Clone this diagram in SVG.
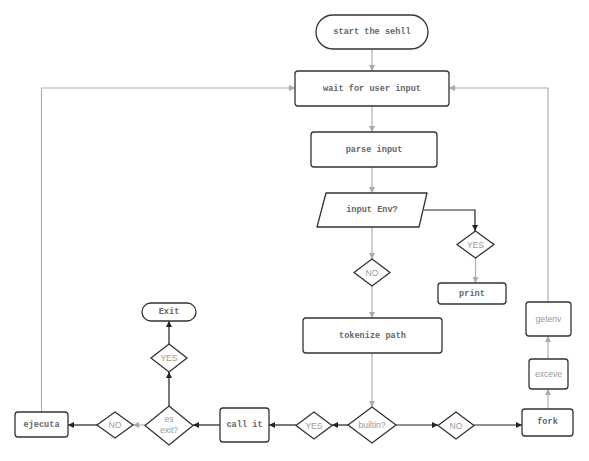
<svg xmlns="http://www.w3.org/2000/svg" width="589" height="461" viewBox="0 0 589 461">
<defs>
<marker id="ab" viewBox="0 0 10 10" refX="10" refY="5" markerWidth="6" markerHeight="6" markerUnits="userSpaceOnUse" orient="auto"><path d="M0,0 L10,5 L0,10 z" fill="#222"/></marker>
<marker id="ag" viewBox="0 0 10 10" refX="10" refY="5" markerWidth="6" markerHeight="6" markerUnits="userSpaceOnUse" orient="auto"><path d="M0,0 L10,5 L0,10 z" fill="#aaa"/></marker>
</defs>
<style>
.n{fill:#fff;stroke:#333;stroke-width:1.3}
.m{font-family:"Liberation Mono",monospace;font-weight:bold;font-size:8.6px;fill:#666;text-anchor:middle;dominant-baseline:central}
.s{font-family:"Liberation Sans",Arial,sans-serif;font-size:8.6px;fill:#999;text-anchor:middle;dominant-baseline:central}
.g{fill:none;stroke:#b0b0b0;stroke-width:1.2;marker-end:url(#ag)}
.b{fill:none;stroke:#222;stroke-width:1.2;marker-end:url(#ab)}
</style>
<rect width="589" height="461" fill="#fff"/>
<g id="connectors">
<path class="g" d="M372,49 V71"/>
<path class="g" d="M372,106 V132"/>
<path class="g" d="M372,167 V193"/>
<path class="b" d="M424,210 H475 V231"/>
<path class="g" d="M372,227 V259"/>
<path class="g" d="M475.5,258 V283"/>
<path class="g" d="M372,286 V318"/>
<path class="g" d="M372,353 V407"/>
<path class="b" d="M396,425 H438"/>
<path class="b" d="M474,425 H522"/>
<path class="g" d="M548,409 V389"/>
<path class="g" d="M548,359 V336"/>
<path class="g" d="M548,302 V88 H449"/>
<path class="b" d="M348,425 H332"/>
<path class="b" d="M296,425 H269"/>
<path class="b" d="M220,425 H193"/>
<path class="g" d="M145,425 H133"/>
<path class="b" d="M97,425 H68"/>
<path class="b" d="M169,406 V372"/>
<path class="b" d="M169,344 V321"/>
<path class="g" d="M41.5,412 V88 H295"/>
</g>
<g id="start"><rect class="n" x="316" y="15" width="112" height="34" rx="17"/><text class="m" x="372" y="32">start the sehll</text></g>
<g id="wait"><rect class="n" x="295" y="71" width="154" height="35" rx="3"/><text class="m" x="372" y="88.5">wait for user input</text></g>
<g id="parse"><rect class="n" x="311" y="132" width="126" height="35" rx="3"/><text class="m" x="374" y="149.5">parse input</text></g>
<g id="env"><path class="n" d="M326,193 H427 L419,227 H317 Z" stroke-linejoin="round"/><text class="m" x="372" y="210">input Env?</text></g>
<g id="yes1"><path class="n" d="M475.5,231 L494,244.5 L475.5,258 L457,244.5 Z"/><text class="s" x="475.5" y="244.5">YES</text></g>
<g id="print"><rect class="n" x="438" y="283" width="68" height="21" rx="3"/><text class="m" x="472" y="293.5">print</text></g>
<g id="no1"><path class="n" d="M372,259 L390,272.5 L372,286 L354,272.5 Z"/><text class="s" x="372" y="272.5">NO</text></g>
<g id="tokenize"><rect class="n" x="303" y="318" width="139" height="35" rx="3"/><text class="m" x="372.5" y="335.5">tokenize path</text></g>
<g id="builtin"><path class="n" d="M372,407 L396,425 L372,443 L348,425 Z"/><text class="s" x="372" y="425">builtin?</text></g>
<g id="no2"><path class="n" d="M456,412 L474,425.5 L456,439 L438,425.5 Z"/><text class="s" x="456" y="425.5">NO</text></g>
<g id="fork"><rect class="n" x="522" y="409" width="51" height="27" rx="3"/><text class="m" x="547.5" y="422">fork</text></g>
<g id="exceve"><rect class="n" x="529" y="359" width="39" height="30" rx="3"/><text class="s" x="548.5" y="374">exceve</text></g>
<g id="getenv"><rect class="n" x="526" y="302" width="45" height="34" rx="3"/><text class="s" x="548.5" y="318.5">getenv</text></g>
<g id="yes2"><path class="n" d="M314,412 L332,425.5 L314,439 L296,425.5 Z"/><text class="s" x="314" y="425.5">YES</text></g>
<g id="callit"><rect class="n" x="220" y="408" width="49" height="34" rx="3"/><text class="m" x="244.5" y="425">call it</text></g>
<g id="esexit"><path class="n" d="M169,406 L193,425.5 L169,445 L145,425.5 Z"/><text class="s" x="169" y="419">es</text><text class="s" x="169" y="429.5">exit?</text></g>
<g id="no3"><path class="n" d="M115,412 L133,425 L115,438 L97,425 Z"/><text class="s" x="115" y="425">NO</text></g>
<g id="ejecuta"><rect class="n" x="15" y="412" width="53" height="25" rx="3"/><text class="m" x="41.5" y="424.5">ejecuta</text></g>
<g id="yes3"><path class="n" d="M169,344 L187,358 L169,372 L151,358 Z"/><text class="s" x="169" y="358">YES</text></g>
<g id="exit"><rect class="n" x="142" y="303" width="54" height="18" rx="9"/><text class="m" x="169" y="312">Exit</text></g>
</svg>
